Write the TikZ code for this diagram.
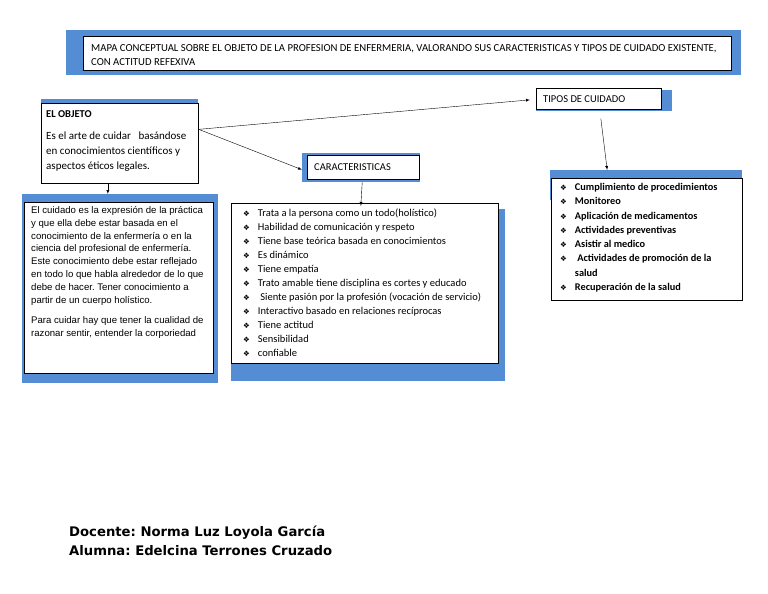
\documentclass[tikz,border=0pt]{standalone}
\usepackage{fontspec}
\setmainfont{Carlito}
\newfontfamily\arialfont{Liberation Sans}
\newfontfamily\symfont{DejaVu Sans}
\usetikzlibrary{positioning}
\definecolor{boxblue}{RGB}{84,141,212}
\frenchspacing

\tikzset{
  shadow/.style={fill=boxblue, draw=none, anchor=north west, inner sep=0pt},
  box/.style={draw=black, fill=white, line width=0.7pt, anchor=north west, inner sep=0pt},
  txt/.style={anchor=north west, align=left, inner sep=0pt, font=\fontsize{10.5}{14}\selectfont},
  lst/.style={txt, font=\fontsize{10.5}{14}\selectfont},
}
\newcommand{\itm}{{\symfont\fontsize{7.5}{7.5}\selectfont ❖}\hspace{8pt}}

\begin{document}
\begin{tikzpicture}[x=1pt,y=-1pt,>=latex]
\useasboundingbox (0,0) rectangle (768,594);

% Title
\node[shadow, minimum width=675pt, minimum height=45pt] (tituloB) at (66,30) {};
\node[box, minimum width=648pt, minimum height=34pt] (titulo) at (83,36) {};
\node[txt, font=\fontsize{10.7}{14}\selectfont] (tituloT) at (91,44)
  {MAPA CONCEPTUAL SOBRE EL OBJETO DE LA PROFESION DE ENFERMERIA, VALORANDO SUS CARACTERISTICAS Y TIPOS DE CUIDADO EXISTENTE,\\
   CON ACTITUD REFEXIVA};

% El objeto
\node[shadow, minimum width=157pt, minimum height=20pt] (objetoB) at (41,99) {};
\node[box, minimum width=157pt, minimum height=80pt] (objeto) at (41,103) {};
\node[txt, font=\bfseries\fontsize{10.5}{14}\selectfont] (objetoT) at (46,110) {EL OBJETO};
\node[txt, font=\fontsize{11}{15}\selectfont] (objetoD) at (46,132)
  {Es el arte de cuidar \ \ basándose\\ en conocimientos científicos y\\ aspectos éticos legales.};

% El cuidado
\node[shadow, minimum width=196pt, minimum height=189pt] (cuidadoB) at (22,194) {};
\node[box, minimum width=189pt, minimum height=171pt] (cuidado) at (24,202) {};
\node[txt, font=\arialfont\fontsize{9.6}{12.9}\selectfont] (cuidadoT) at (31,206)
  {El cuidado es la expresión de la práctica\\
   y que ella debe estar basada en el\\
   conocimiento de la enfermería o en la\\
   ciencia del profesional de enfermería.\\
   Este conocimiento debe estar reflejado\\
   en todo lo que habla alrededor de lo que\\
   debe de hacer. Tener conocimiento a\\
   partir de un cuerpo holístico.\\[7pt]
   Para cuidar hay que tener la cualidad de\\
   razonar sentir, entender la corporiedad};

% Caracteristicas
\node[shadow, minimum width=118pt, minimum height=29pt] (caractB) at (302,153) {};
\node[box, minimum width=112pt, minimum height=24pt] (caract) at (307,155) {};
\node[txt] (caractT) at (314,163) {CARACTERISTICAS};

\node[shadow, minimum width=274pt, minimum height=172pt] (rasgosB) at (231,209) {};
\node[box, minimum width=267pt, minimum height=160pt] (rasgos) at (231,203) {};
\node[lst] (rasgosT) at (243,208.5)
  {\itm Trata a la persona como un todo(holístico)\\
   \itm Habilidad de comunicación y respeto\\
   \itm Tiene base teórica basada en conocimientos\\
   \itm Es dinámico\\
   \itm Tiene empatía\\
   \itm Trato amable tiene disciplina es cortes y educado\\
   \itm \ Siente pasión por la profesión (vocación de servicio)\\
   \itm Interactivo basado en relaciones recíprocas\\
   \itm Tiene actitud\\
   \itm Sensibilidad\\
   \itm confiable};

% Tipos de cuidado
\node[shadow, minimum width=136pt, minimum height=21pt] (tiposB) at (536,90) {};
\node[box, minimum width=125pt, minimum height=21pt] (tipos) at (536,88) {};
\node[txt] (tiposT) at (543,95) {TIPOS DE CUIDADO};

\node[shadow, minimum width=192pt, minimum height=30pt] (listaB) at (550,170) {};
\node[box, minimum width=191pt, minimum height=122pt] (lista) at (551,178) {};
\node[lst, font=\bfseries\fontsize{10.3}{14.3}\selectfont] (listaT) at (560,183)
  {\itm Cumplimiento de procedimientos\\
   \itm Monitoreo\\
   \itm Aplicación de medicamentos\\
   \itm Actividades preventivas\\
   \itm Asistir al medico\\
   \itm \ Actividades de promoción de la\\
   \hphantom{\itm}salud\\
   \itm Recuperación de la salud};

% Connectors
\coordinate (salida) at ([yshift=14pt]objeto.east);
\draw[->] (salida) -- ([xshift=-6pt,yshift=-1pt]tipos.west);
\draw[->] (salida) -- ([yshift=-2pt]caractB.west);
\draw[->] ([xshift=-12pt]objeto.south) -- ([xshift=-12pt]objeto.south |- cuidadoB.north);
\draw[->] ([xshift=2pt,yshift=-9pt]tipos.south) -- ([xshift=-39pt]listaB.north);
\draw[->] ([xshift=1pt]caractB.south) -- ([xshift=-4pt,yshift=-3pt]rasgos.north);

% Firmas
\node[anchor=west, inner sep=0pt, align=left, font=\symfont\bfseries\fontsize{13.2}{19.5}\selectfont] (firmas) at (69,541)
  {Docente: Norma Luz Loyola García\\ Alumna: Edelcina Terrones Cruzado};
\end{tikzpicture}
\end{document}
